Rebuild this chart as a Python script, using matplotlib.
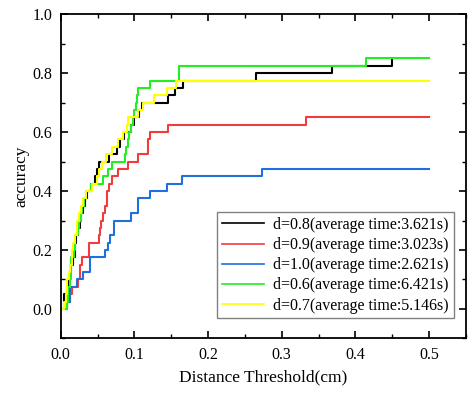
import numpy as np
import matplotlib
matplotlib.use('Agg')
import matplotlib.pyplot as plt
from matplotlib.ticker import MultipleLocator, FormatStrFormatter

plt.rcParams['font.family'] = ['Liberation Serif', 'DejaVu Serif']

labels = ['d=0.8(average time:3.621s)', 'd=0.9(average time:3.023s)',
          'd=1.0(average time:2.621s)', 'd=0.6(average time:6.421s)',
          'd=0.7(average time:5.146s)']
colors = ['#000000', '#f03c3c', '#1f6fdc', '#22ee22', '#ffff00']

# step curves: threshold (cm) -> accuracy
x_d08 = [0.001, 0.005, 0.008, 0.011, 0.013, 0.0144, 0.017, 0.019, 0.021, 0.023, 0.026,
         0.028, 0.030, 0.033, 0.036, 0.0415, 0.046, 0.049, 0.052, 0.066, 0.077, 0.080,
         0.086, 0.096, 0.100, 0.106, 0.110, 0.146, 0.155, 0.166, 0.265, 0.368, 0.45]
y_d08 = [0.0, 0.05, 0.075, 0.1, 0.125, 0.15, 0.175, 0.225, 0.25, 0.275, 0.3,
         0.325, 0.35, 0.375, 0.4, 0.425, 0.45, 0.475, 0.5, 0.525, 0.55, 0.575,
         0.6, 0.625, 0.65, 0.675, 0.7, 0.725, 0.75, 0.775, 0.8, 0.825, 0.85]

x_d09 = [0.004, 0.008, 0.013, 0.016, 0.024, 0.026, 0.029, 0.038, 0.052, 0.053, 0.055,
         0.057, 0.0595, 0.0625, 0.066, 0.070, 0.078, 0.092, 0.105, 0.118, 0.119, 0.121,
         0.146, 0.333, 0.5]
y_d09 = [0.0, 0.025, 0.05, 0.075, 0.1, 0.15, 0.175, 0.225, 0.25, 0.275, 0.3,
         0.325, 0.35, 0.4, 0.425, 0.45, 0.475, 0.5, 0.525, 0.55, 0.575, 0.6,
         0.625, 0.65, 0.65]

x_d10 = [0.003, 0.008, 0.0126, 0.022, 0.030, 0.040, 0.060, 0.064, 0.067, 0.072, 0.096,
         0.105, 0.121, 0.144, 0.164, 0.273, 0.5]
y_d10 = [0.0, 0.025, 0.075, 0.1, 0.125, 0.175, 0.2, 0.225, 0.25, 0.3, 0.325,
         0.375, 0.4, 0.425, 0.45, 0.475, 0.475]

x_d06 = [0.005, 0.008, 0.010, 0.012, 0.0135, 0.018, 0.020, 0.023, 0.025, 0.027, 0.029,
         0.031, 0.034, 0.0415, 0.058, 0.064, 0.070, 0.087, 0.089, 0.091, 0.093, 0.096,
         0.098, 0.100, 0.102, 0.104, 0.105, 0.121, 0.160, 0.415, 0.5]
y_d06 = [0.0, 0.025, 0.075, 0.1, 0.175, 0.2, 0.25, 0.275, 0.3, 0.325, 0.35,
         0.375, 0.4, 0.425, 0.45, 0.475, 0.5, 0.525, 0.55, 0.575, 0.6, 0.625,
         0.65, 0.675, 0.7, 0.725, 0.75, 0.775, 0.825, 0.85, 0.85]

x_d07 = [0.003, 0.005, 0.007, 0.009, 0.011, 0.013, 0.015, 0.017, 0.019, 0.022, 0.025,
         0.027, 0.030, 0.034, 0.042, 0.049, 0.052, 0.056, 0.062, 0.070, 0.078, 0.084,
         0.090, 0.092, 0.105, 0.112, 0.127, 0.144, 0.157, 0.5]
y_d07 = [0.0, 0.025, 0.05, 0.1, 0.125, 0.15, 0.2, 0.225, 0.25, 0.3, 0.325,
         0.35, 0.375, 0.4, 0.425, 0.45, 0.475, 0.5, 0.525, 0.55, 0.575, 0.6,
         0.625, 0.65, 0.675, 0.7, 0.725, 0.75, 0.775, 0.775]

series = [(x_d08, y_d08), (x_d09, y_d09), (x_d10, y_d10), (x_d06, y_d06), (x_d07, y_d07)]

fig = plt.figure(figsize=(4.74, 3.94), dpi=100)
ax = fig.add_axes([0.128, 0.141, 0.855, 0.823])

for (xs, ys), c, lab in zip(series, colors, labels):
    ax.plot(xs, ys, drawstyle='steps-post', color=c, lw=1.5, label=lab)

ax.set_xlim(0, 0.55)
ax.set_ylim(-0.1, 1.0)
ax.xaxis.set_major_locator(MultipleLocator(0.1))
ax.xaxis.set_minor_locator(MultipleLocator(0.05))
ax.yaxis.set_major_locator(MultipleLocator(0.2))
ax.yaxis.set_minor_locator(MultipleLocator(0.1))
ax.tick_params(which='both', direction='in', top=True, right=True, labelsize=11.5)
ax.tick_params(axis='x', which='major', pad=6)
ax.tick_params(axis='y', which='major', pad=6)
ax.tick_params(which='major', length=5, width=1.2)
ax.tick_params(which='minor', length=3, width=1.0)
ax.xaxis.set_major_formatter(FormatStrFormatter('%.1f'))
ax.yaxis.set_major_formatter(FormatStrFormatter('%.1f'))
for s in ax.spines.values():
    s.set_linewidth(1.3)

ax.set_xlabel('Distance Threshold(cm)', fontsize=12.5, labelpad=5)
ax.set_ylabel('accuracy', fontsize=12.5, labelpad=2)

leg = ax.legend(loc='lower right', bbox_to_anchor=(0.970, 0.062), borderaxespad=0,
                fontsize=11.5, fancybox=False, framealpha=1, edgecolor='#808080',
                handlelength=2.6, handletextpad=0.6, labelspacing=0.26, borderpad=0.3)
leg.get_frame().set_linewidth(1.0)
for h in leg.get_lines():
    h.set_linewidth(1.2)

fig.savefig('out.png', dpi=100)
